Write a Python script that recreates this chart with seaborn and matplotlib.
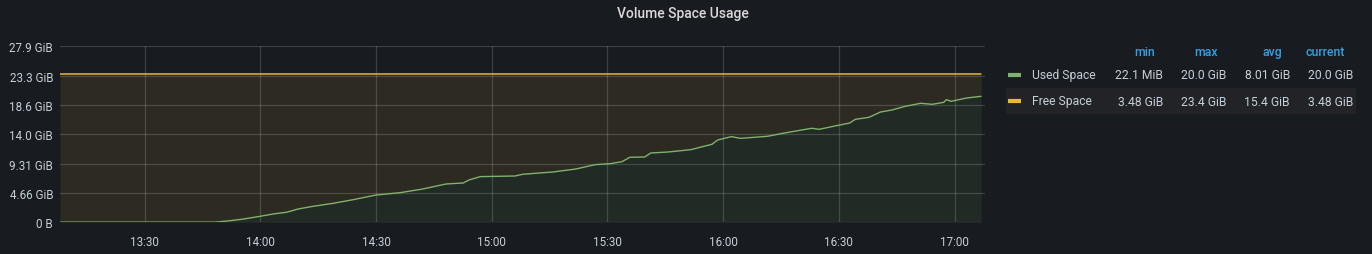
import numpy as np
import pandas as pd
import matplotlib
matplotlib.use("Agg")
import matplotlib.pyplot as plt
import matplotlib.dates as mdates
from matplotlib.patches import Rectangle
from matplotlib.lines import Line2D
import seaborn as sns

# ---------------- data ----------------
DAY = "2021-03-01 "
used_times = ["13:08:02", "13:48:14", "13:52:06", "13:55:38", "13:59:55", "14:03:19",
              "14:06:48", "14:09:47", "14:13:41", "14:18:52", "14:24:03", "14:30:00",
              "14:36:13", "14:42:09", "14:48:06", "14:52:36", "14:54:06", "14:57:00",
              "15:06:00", "15:08:00", "15:15:54", "15:21:48", "15:26:48", "15:30:48",
              "15:33:48", "15:35:48", "15:39:42", "15:41:12", "15:45:42", "15:51:36",
              "15:54:36", "15:57:06", "15:58:36", "16:02:06", "16:04:30", "16:11:30",
              "16:15:24", "16:22:54", "16:24:54", "16:29:24", "16:32:48", "16:34:18",
              "16:37:48", "16:40:48", "16:43:48", "16:47:12", "16:51:12", "16:54:12",
              "16:57:12", "16:57:54", "16:59:06", "17:03:06", "17:06:54"]
used_gib = [0.02, 0.02, 0.25, 0.52, 0.95, 1.32,
            1.59, 2.11, 2.54, 3.01, 3.59, 4.33,
            4.70, 5.29, 6.08, 6.24, 6.72, 7.25,
            7.35, 7.62, 7.99, 8.46, 9.15, 9.31,
            9.63, 10.32, 10.37, 11.00, 11.16, 11.53,
            12.00, 12.38, 13.07, 13.60, 13.33, 13.65,
            14.12, 14.92, 14.76, 15.34, 15.76, 16.35,
            16.66, 17.51, 17.83, 18.41, 18.89, 18.73,
            19.04, 19.47, 19.20, 19.73, 20.00]
disk_capacity_gib = 23.48  # used + free

series_names = ["Used Space", "Free Space"]
stat_headers = ["min", "max", "avg", "current"]
used_stats = ["22.1 MiB", "20.0 GiB", "8.01 GiB", "20.0 GiB"]
free_stats = ["3.48 GiB", "23.4 GiB", "15.4 GiB", "3.48 GiB"]

y_tick_bytes = [0, 5e9, 10e9, 15e9, 20e9, 25e9, 30e9]
y_tick_labels = ["0 B", "4.66 GiB", "9.31 GiB", "14.0 GiB", "18.6 GiB", "23.3 GiB", "27.9 GiB"]
x_start, x_end = "13:08:02", "17:07:54"
title = "Volume Space Usage"

# ---------------- styling ----------------
BG = "#181b1f"
TXT = "#c7d0d9"
GREEN = "#7eb26d"
YELLOW = "#eab839"
BLUE = "#33a2e5"

sns.set_theme(style="dark", rc={"axes.facecolor": BG, "figure.facecolor": BG})
plt.rcParams["font.family"] = ["Roboto", "DejaVu Sans"]

t = pd.to_datetime([DAY + s for s in used_times])
used = np.array(used_gib)
free = disk_capacity_gib - used
df = pd.DataFrame({"time": t, "used": used, "stack_top": used + free})

W, H = 1372, 255
fig = plt.figure(figsize=(W / 100, H / 100), dpi=100)
L, R, T, B = 60, 985, 47.3, 223.3
ax = fig.add_axes([L / W, 1 - B / H, (R - L) / W, (B - T) / H])
ax.set_facecolor(BG)

ax.fill_between(df["time"], 0, df["used"], color=GREEN, alpha=0.1, lw=0, zorder=1)
ax.fill_between(df["time"], df["used"], df["stack_top"], color=YELLOW, alpha=0.1, lw=0, zorder=1)
sns.lineplot(data=df, x="time", y="used", ax=ax, color=GREEN, lw=1.0, zorder=4)
sns.lineplot(data=df, x="time", y="stack_top", ax=ax, color=YELLOW, lw=1.1, zorder=4)

ax.set_xlim(pd.Timestamp(DAY + x_start), pd.Timestamp(DAY + x_end))
gib_ticks = [b / 2**30 for b in y_tick_bytes]
ax.set_ylim(0, gib_ticks[-1])
ax.set_yticks(gib_ticks)
ax.set_yticklabels(y_tick_labels)
ax.xaxis.set_major_locator(mdates.MinuteLocator(byminute=[0, 30]))
ax.xaxis.set_major_formatter(mdates.DateFormatter("%H:%M"))
ax.set_xlabel("")
ax.set_ylabel("")
ax.grid(True, color="#ffffff", alpha=0.16, lw=0.9, zorder=2)
ax.set_axisbelow(False)
for sp in ax.spines.values():
    sp.set_visible(False)
ax.tick_params(axis="both", length=0, colors=TXT, labelsize=8.4)
ax.tick_params(axis="x", pad=9)
ax.tick_params(axis="y", pad=5)

# title
fig.text(683 / W, 1 - 14 / H, title, ha="center", va="center", color="#d8d9da",
         fontsize=10, fontweight="medium")

# legend table
def fy(y):
    return 1 - y / H

fig.add_artist(Rectangle((1006 / W, fy(114.3)), (1355 - 1006) / W, 25 / H,
                         transform=fig.transFigure, color="#212327", zorder=0))
val_right = [1163, 1226, 1290, 1353]
for hdr, xr in zip(stat_headers, val_right):
    fig.text((xr - 8) / W, fy(52.5), hdr, ha="right", va="center", color=BLUE,
             fontsize=8.8, fontweight="medium")
rows = [(series_names[0], GREEN, used_stats, 75.5), (series_names[1], YELLOW, free_stats, 102)]
for name, col, stats, yy in rows:
    fig.add_artist(Line2D([1008 / W, 1021 / W], [fy(yy), fy(yy)], transform=fig.transFigure,
                          color=col, lw=3, solid_capstyle="butt"))
    fig.text(1032 / W, fy(yy), name, ha="left", va="center", color=TXT, fontsize=8.7)
    for s, xr in zip(stats, val_right):
        fig.text(xr / W, fy(yy), s, ha="right", va="center", color=TXT, fontsize=8.7)

fig.savefig("out.png", dpi=100, facecolor=BG)
